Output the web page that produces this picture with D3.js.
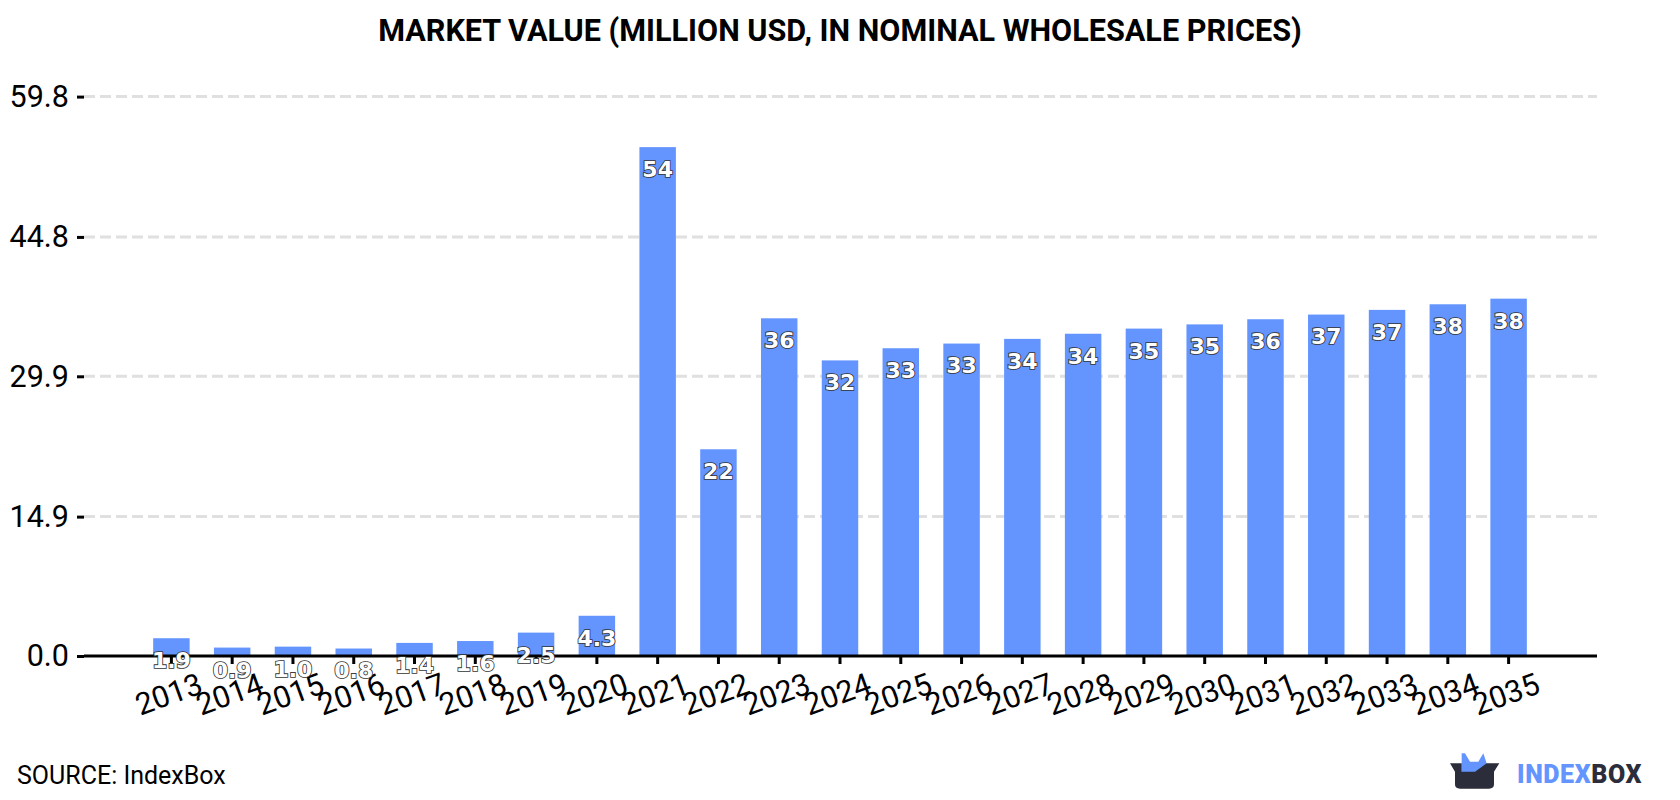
<!DOCTYPE html>
<html>
<head>
<meta charset="utf-8">
<script src="https://cdn.jsdelivr.net/npm/d3@7"></script>
<style>
html,body{margin:0;padding:0;background:#fff;}
svg{display:block;}
text{font-family:Roboto,sans-serif;fill:#000;}
</style>
</head>
<body>
<svg id="chart" width="1680" height="800"></svg>
<script>
// Market value series, million USD
const years = [2013,2014,2015,2016,2017,2018,2019,2020,2021,2022,2023,2024,2025,2026,2027,2028,2029,2030,2031,2032,2033,2034,2035];
const marketValue = [1.9,0.9,1.0,0.8,1.4,1.6,2.5,4.3,54.4,22.1,36.1,31.6,32.9,33.4,33.9,34.45,35.0,35.45,36.0,36.5,37.0,37.6,38.2];
const yTicks = [0,14.9,29.9,44.8,59.8];

const svg = d3.select("#chart");
const plotLeft = 84, plotRight = 1597, plotTop = 96.6, plotBottom = 656;

const x = d3.scaleBand().domain(years).range([141,1539]).paddingInner(0.4).paddingOuter(0.2);
const y = d3.scaleLinear().domain([0,59.8]).range([plotBottom,plotTop]);

// Title
svg.append("text").attr("x",840).attr("y",41).attr("text-anchor","middle")
  .style("font-size","30.6px").style("font-weight",700)
  .text("MARKET VALUE (MILLION USD, IN NOMINAL WHOLESALE PRICES)");

// Horizontal grid
svg.append("g").selectAll("line").data(yTicks.slice(1)).join("line")
  .attr("x1",plotLeft).attr("x2",plotRight)
  .attr("y1",d=>y(d)).attr("y2",d=>y(d))
  .attr("stroke","#e0e0e0").attr("stroke-width",3).attr("stroke-dasharray","11 5");

// Bars
svg.append("g").selectAll("rect").data(years).join("rect")
  .attr("x",d=>x(d)).attr("width",x.bandwidth())
  .attr("y",(d,i)=>y(marketValue[i]))
  .attr("height",(d,i)=>y(0)-y(marketValue[i]))
  .attr("fill","#6495ff");

// Y axis
const yAxis = svg.append("g").attr("transform",`translate(${plotLeft},0)`)
  .call(d3.axisLeft(y).tickValues(yTicks).tickFormat(d3.format(".1f")).tickSize(7).tickPadding(8));
yAxis.select(".domain").remove();
yAxis.selectAll("line").attr("stroke","#000").attr("stroke-width",3);
yAxis.selectAll("text").style("font-size","30.5px");

// X axis
const xAxis = svg.append("g").attr("transform",`translate(0,${plotBottom})`)
  .call(d3.axisBottom(x).tickSize(8).tickPadding(8));
xAxis.select(".domain").remove();
xAxis.selectAll("line").attr("stroke","#000").attr("stroke-width",3);
xAxis.selectAll("text").style("font-size","30.5px").attr("text-anchor","middle")
  .attr("dy",0).attr("y",0)
  .attr("transform","translate(1,48) rotate(-20)");
svg.append("line").attr("x1",plotLeft).attr("x2",plotRight).attr("y1",plotBottom).attr("y2",plotBottom)
  .attr("stroke","#000").attr("stroke-width",3);

// Value labels sit a fixed distance below each bar top
svg.append("g").selectAll("text").data(years).join("text")
  .attr("x",d=>x(d)+x.bandwidth()/2)
  .attr("y",(d,i)=>y(marketValue[i])+22)
  .attr("dy","0.36em")
  .attr("text-anchor","middle")
  .style("font-family","'DejaVu Sans'").style("font-weight",700).style("font-size","22px")
  .style("fill","#fff").style("stroke","#333").style("stroke-width",1.7).style("paint-order","stroke")
  .text((d,i)=>marketValue[i]<10?d3.format(".1f")(marketValue[i]):d3.format(".0f")(marketValue[i]));

// Source note
svg.append("text").attr("x",17).attr("y",784).style("font-size","25px").text("SOURCE: IndexBox");

// Brand mark
const logo = svg.append("g").attr("transform","translate(1420,730) scale(0.3333)");
logo.append("path").attr("fill","#6495ff")
  .attr("d","M125 70 L135 70 L150 95 L175 95 L190 70 L200 100 L200 130 L125 130 Z");
logo.append("path").attr("fill","#2b2d3a")
  .attr("d","M90 100 L125 100 L125 125 L165 125 L200 100 L238 100 L222 125 L222 163 Q222 176 207 176 L120 176 Q105 176 105 163 L105 125 Z");
svg.append("text").attr("x",1517).attr("y",783).style("font-size","25px").style("font-weight",900)
  .style("letter-spacing","0.6px")
  .call(t=>{
    t.append("tspan").style("fill","#6495ff").text("INDEX");
    t.append("tspan").style("fill","#2b2d3a").text("BOX");
  });
</script>
</body>
</html>
